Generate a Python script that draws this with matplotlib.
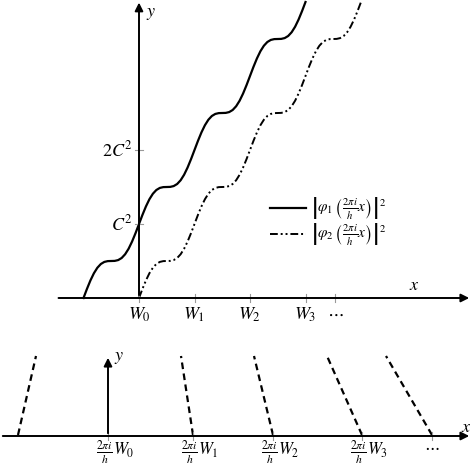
import numpy as np
import matplotlib
matplotlib.use("Agg")
import matplotlib.pyplot as plt

plt.rcParams['mathtext.fontset'] = 'stix'
plt.rcParams['font.family'] = ['Liberation Serif', 'DejaVu Serif']

# one-period wobble offsets (16 samples per period)
wobble = [0.0, 0.061, 0.1125, 0.147, 0.159, 0.147, 0.1125, 0.061,
          0.0, -0.061, -0.1125, -0.147, -0.159, -0.147, -0.1125, -0.061]
steps = [i / 16 for i in range(16)]

# solid curve |phi1|^2: x from -1 to 3 (in W units), y in C^2 units
x1, y1 = [], []
for k in range(-1, 3):
    for s, w in zip(steps, wobble):
        x1.append(k + s); y1.append(k + s + 1 + w)
x1.append(3.0); y1.append(4.0)
# dash-dot curve |phi2|^2: x from 0 to 4
x2, y2 = [], []
for k in range(0, 4):
    for s, w in zip(steps, wobble):
        x2.append(k + s); y2.append(k + s + w)
x2.append(4.0); y2.append(4.0)

top_ticks = [0, 1, 2, 3]
top_labels = [r'$W_0$', r'$W_1$', r'$W_2$', r'$W_3$']
y_ticks = [1, 2]
y_labels = [r'$C^2$', r'$2C^2$']

bot_ticks = [108, 193, 273, 362]
bot_labels = [r'$\frac{2\pi i}{h}W_0$', r'$\frac{2\pi i}{h}W_1$',
              r'$\frac{2\pi i}{h}W_2$', r'$\frac{2\pi i}{h}W_3$']
seg_x0 = [18, 193, 273, 362, 432]
seg_x1 = [36, 181, 254, 327, 386]

fig = plt.figure(figsize=(4.74, 4.70), dpi=100)
ax = fig.add_axes([0, 1 - 320 / 470, 1, 320 / 470])
ax.set_xlim(-139 / 55.5, (474 - 139) / 55.5)
ax.set_ylim(-22 / 74, 298 / 74)
ax.axis('off')
ax.plot(x1, y1, 'k-', lw=1.6)
ax.plot(x2, y2, color='k', lw=1.4, linestyle=(0, (4, 1.5, 1, 1.5, 1, 1.5)))
arr = dict(arrowstyle='-|>', color='k', lw=1.4, mutation_scale=12)
ax.annotate('', xy=(6.0, 0), xytext=(-1.5, 0), arrowprops=arr)
ax.annotate('', xy=(0, 4.03), xytext=(0, 0), arrowprops=arr)
for t in top_ticks + [3.53]:
    ax.plot([t, t], [-0.05, 0.05], color='0.6', lw=0.8)
for t, l in zip(top_ticks, top_labels):
    ax.text(t, -0.1, l, ha='center', va='top', fontsize=13)
ax.text(3.53, -0.1, r'$\cdots$', ha='center', va='top', fontsize=13)
for t, l in zip(y_ticks, y_labels):
    ax.plot([-0.07, 0.07], [t, t], color='0.6', lw=0.8)
    ax.text(-0.1, t, l, ha='right', va='center', fontsize=13)
ax.text(4.86, 0.05, r'$x$', fontsize=13, va='bottom')
ax.text(0.12, 3.85, r'$y$', fontsize=13, va='center')
# legend
ax.plot([2.36, 3.0], [1.22, 1.22], 'k-', lw=1.6)
ax.plot([2.36, 3.0], [0.86, 0.86], color='k', lw=1.4, linestyle=(0, (4, 1.5, 1, 1.5, 1, 1.5)))
ax.text(3.1, 1.22, r'$\left|\varphi_1\,\left(\frac{2\pi i}{h}x\right)\right|^2$', va='center', fontsize=11)
ax.text(3.1, 0.86, r'$\left|\varphi_2\,\left(\frac{2\pi i}{h}x\right)\right|^2$', va='center', fontsize=11)

bx = fig.add_axes([0, 0, 1, 130 / 470])
bx.set_xlim(0, 474)
bx.set_ylim(0, 130)
bx.axis('off')
Y = lambda py: 470 - py
bx.annotate('', xy=(472, Y(436)), xytext=(0, Y(436)), arrowprops=arr)
bx.annotate('', xy=(108, Y(355)), xytext=(108, Y(436)), arrowprops=arr)
for a, b in zip(seg_x0, seg_x1):
    bx.plot([a, b], [Y(435), Y(356)], 'k', lw=1.6, linestyle=(0, (3, 2)))
for t, l in zip(bot_ticks, bot_labels):
    bx.plot([t, t], [Y(432), Y(440)], color='0.6', lw=0.8)
    bx.text(t - 12, Y(452), l, ha='left', va='center', fontsize=12)
bx.plot([432, 432], [Y(432), Y(440)], color='0.6', lw=0.8)
bx.text(432, Y(447), r'$\cdots$', ha='center', va='center', fontsize=12)
bx.text(461, Y(428), r'$x$', fontsize=13, va='center')
bx.text(114, Y(358), r'$y$', fontsize=13, va='center')

fig.savefig('out.png', dpi=100)
